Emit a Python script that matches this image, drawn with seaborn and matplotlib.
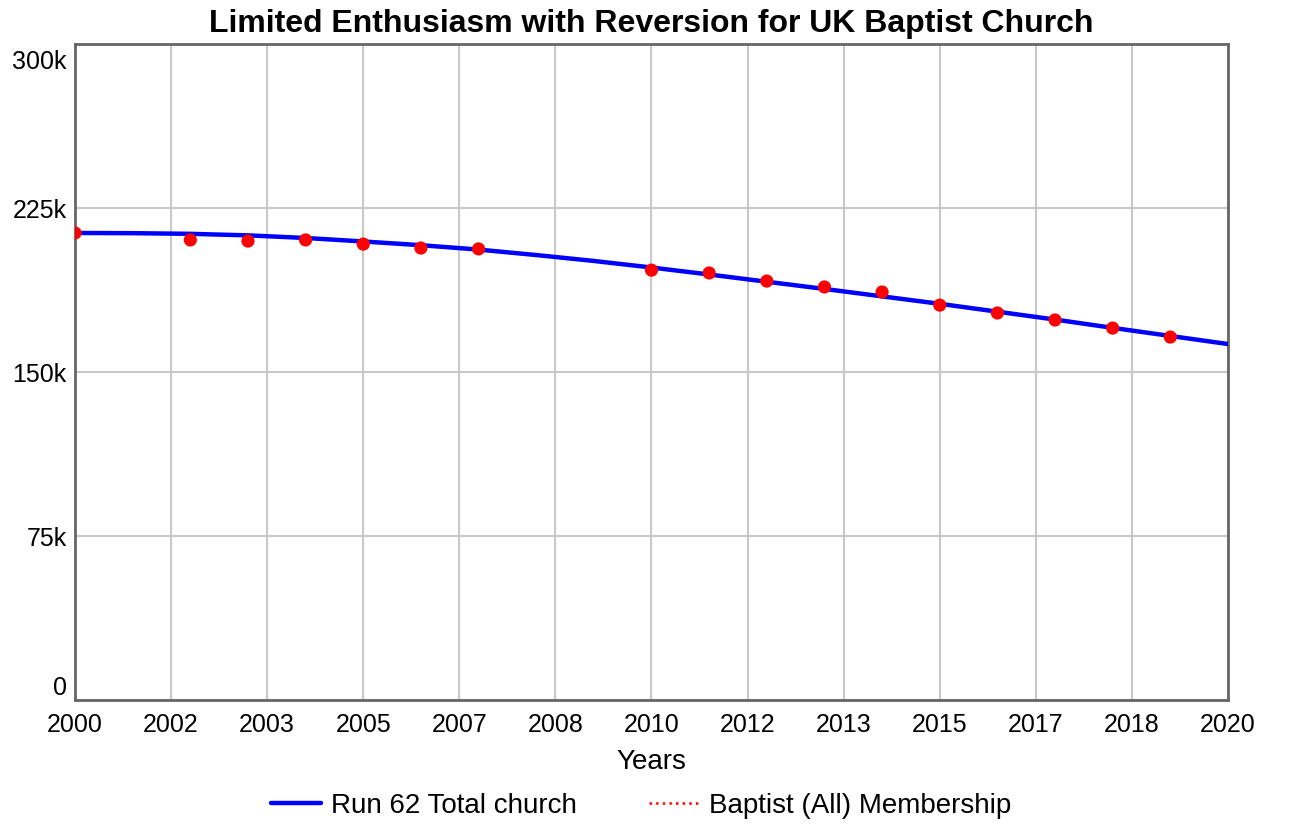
import numpy as np
import pandas as pd
import matplotlib
matplotlib.use('Agg')
import matplotlib.pyplot as plt
import matplotlib.transforms as mtransforms
from matplotlib.lines import Line2D
import seaborn as sns

# Simulated run (yearly values)
run_years = list(range(2000, 2021))
run_values = [213600, 213500, 213200, 212500, 211300, 209700, 208000, 206000,
              203500, 200800, 197800, 194600, 191300, 188000, 184600, 181200,
              177600, 174000, 170200, 166500, 162800]

# Observed membership
obs_years = [2000, 2002, 2003, 2004, 2005, 2006, 2007, 2010, 2011, 2012,
             2013, 2014, 2015, 2016, 2017, 2018, 2019]
obs_values = [213600, 210400, 209900, 210400, 208500, 206700, 206300, 196600,
              195300, 191600, 188900, 186600, 180600, 177000, 173800, 170100, 166000]

y_ticks = [0, 75000, 150000, 225000, 300000]
y_labels = ['0', '75k', '150k', '225k', '300k']

run_df = pd.DataFrame({'Years': run_years, 'Members': run_values})
obs_df = pd.DataFrame({'Years': obs_years, 'Members': obs_values})

sns.set_style('white')
plt.rcParams['font.family'] = ['Liberation Sans', 'DejaVu Sans']
plt.rcParams['text.color'] = 'black'
plt.rcParams['xtick.color'] = 'black'
plt.rcParams['ytick.color'] = 'black'
plt.rcParams['axes.labelcolor'] = 'black'

fig = plt.figure(figsize=(13, 8.26), dpi=100)
ax = fig.add_axes([0.0577, 0.1525, 0.8869, 0.7942])

sns.lineplot(data=run_df, x='Years', y='Members', color='#0000ff', linewidth=3.2, ax=ax, zorder=3)
sns.scatterplot(data=obs_df, x='Years', y='Members', color='#ff0000', s=90, edgecolor='none', ax=ax, zorder=4)

ax.set_xlim(2000, 2020)
ax.set_ylim(0, 300000)

x_ticks = [2000 + i * 20 / 12 for i in range(13)]
ax.set_xticks(x_ticks)
ax.set_xticklabels([str(int(round(t))) for t in x_ticks], fontsize=18)
ax.set_yticks(y_ticks)
ax.set_yticklabels(y_labels, fontsize=18)
ax.tick_params(axis='x', length=0, pad=9)
ax.tick_params(axis='y', length=0, pad=6)
labels = ax.get_yticklabels()
labels[0].set_va('bottom')
labels[-1].set_va('top')
labels[-1].set_transform(labels[-1].get_transform() +
                         mtransforms.ScaledTranslation(0, -6 / 100, fig.dpi_scale_trans))

ax.grid(True, color='#c8c8c8', linewidth=1.5)
ax.set_axisbelow(True)
for sp in ax.spines.values():
    sp.set_color('#666666')
    sp.set_linewidth(2)

ax.set_xlabel('Years', fontsize=20, labelpad=9)
ax.set_ylabel('')
ax.set_title('Limited Enthusiasm with Reversion for UK Baptist Church',
             fontsize=23, fontweight='bold', pad=9)

handles = [Line2D([0], [0], color='#0000ff', linewidth=3.2),
           Line2D([0], [0], color='#ff0000', linewidth=1.8, linestyle=':')]
fig.legend(handles, ['Run 62 Total church', 'Baptist (All) Membership'],
           loc='lower center', bbox_to_anchor=(0.493, -0.022), ncol=2, frameon=False,
           fontsize=20, handlelength=1.8, handletextpad=0.35, columnspacing=2.6)

fig.savefig('out.png', dpi=100)
